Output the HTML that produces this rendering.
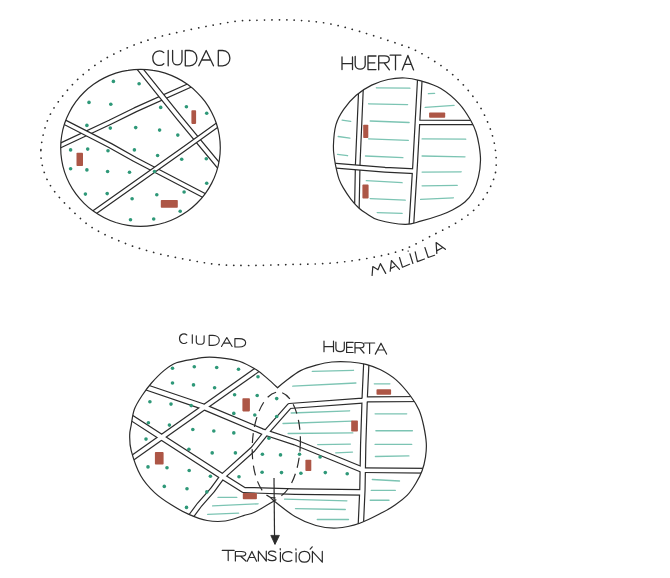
<!DOCTYPE html>
<html><head><meta charset="utf-8"><style>
html,body{margin:0;padding:0;background:#fff;}
body{width:670px;height:578px;overflow:hidden;font-family:"Liberation Sans",sans-serif;}
svg{display:block;}
</style></head><body>
<svg width="670" height="578" viewBox="0 0 670 578">
<path d="M40.9,149.8 C41.4,141.5 43.9,130.1 47,121.8 C50.1,113.5 54,107.5 59.6,100 C65.2,92.5 72.2,84.1 80.7,76.7 C89.2,69.3 98.2,62.2 110.6,55.8 C123,49.3 135.9,43.5 155,38 C174.1,32.5 207.9,25.9 225.4,22.9 C242.9,19.9 248.4,20.6 260,20.2 C271.6,19.8 283.8,19.7 295,20.2 C306.2,20.7 316.7,21.5 327.5,23.4 C338.3,25.3 348.2,28.1 359.8,31.5 C371.4,34.9 387.4,40.1 397.4,43.6 C407.4,47.1 410.8,47.6 420,52.7 C429.2,57.9 442.9,66 452.6,74.5 C462.3,83 471.3,93.2 478,103.5 C484.7,113.8 489.6,125.9 492.6,136.2 C495.6,146.5 496.4,157.1 496.2,165.2 C496,173.3 494.4,177.8 491.4,184.6 C488.4,191.4 483.4,199.9 478,206 C472.6,212.1 465.9,216.7 458.7,221.4 C451.4,226.1 443.8,229.5 434.5,234.2 C425.2,238.9 413.6,245.8 403,249.7 C392.4,253.6 382.7,255.6 370.6,257.8 C358.5,260.1 343.7,262.1 330.3,263.2 C316.9,264.3 303.6,264.1 290,264.5 C276.4,264.9 261.2,265.5 249,265.5 C236.8,265.5 227.1,265.4 216.8,264.4 C206.5,263.4 197.3,261.5 187,259.6 C176.7,257.7 165.5,255.6 155,252.8 C144.5,250 134.4,247.1 124,242.9 C113.5,238.7 101.2,233.3 92.3,227.7 C83.4,222 77,215.3 70.5,209 C64,202.7 57.8,196.2 53.4,190 C49,183.8 46.1,178.3 44,171.6 C41.9,164.9 40.4,158.1 40.9,149.8Z" fill="none" stroke="#2b2b2b" stroke-width="1.7" stroke-dasharray="0.1 7.3" stroke-linecap="round"/>
<defs><clipPath id="k1"><path d="M220.3,147.8 C220.3,151.9 220,156 219.3,160.1 C218.7,164.1 217.7,168.2 216.4,172.1 C215.1,176 213.5,179.8 211.6,183.4 C209.7,187.1 207.5,190.6 205.1,193.9 C202.6,197.3 199.9,200.4 196.9,203.3 C194,206.2 190.8,208.9 187.4,211.3 C184,213.7 180.4,215.9 176.7,217.7 C173,219.6 169.1,221.2 165.2,222.5 C161.2,223.7 157.1,224.7 153,225.3 C148.9,226 144.7,226.3 140.5,226.3 C136.3,226.3 132.1,226 128,225.3 C123.9,224.7 119.8,223.7 115.8,222.5 C111.9,221.2 108,219.6 104.3,217.7 C100.6,215.9 97,213.7 93.6,211.3 C90.2,208.9 87,206.2 84.1,203.3 C81.1,200.4 78.4,197.3 75.9,193.9 C73.5,190.6 71.3,187.1 69.4,183.4 C67.5,179.8 65.9,176 64.6,172.1 C63.3,168.2 62.3,164.1 61.7,160.1 C61,156 60.7,151.9 60.7,147.8 C60.7,143.7 61,139.6 61.7,135.5 C62.3,131.5 63.3,127.4 64.6,123.5 C65.9,119.6 67.5,115.8 69.4,112.2 C71.3,108.5 73.5,105 75.9,101.7 C78.4,98.3 81.1,95.2 84.1,92.3 C87,89.4 90.2,86.7 93.6,84.3 C97,81.9 100.6,79.7 104.3,77.9 C108,76 111.9,74.4 115.8,73.1 C119.8,71.9 123.9,70.9 128,70.3 C132.1,69.6 136.3,69.3 140.5,69.3 C144.7,69.3 148.9,69.6 153,70.3 C157.1,70.9 161.2,71.9 165.2,73.1 C169.1,74.4 173,76 176.7,77.9 C180.4,79.7 184,81.9 187.4,84.3 C190.8,86.7 194,89.4 196.9,92.3 C199.9,95.2 202.6,98.3 205.1,101.7 C207.5,105 209.7,108.5 211.6,112.2 C213.5,115.8 215.1,119.6 216.4,123.5 C217.7,127.4 218.7,131.5 219.3,135.5 C220,139.6 220.3,143.7 220.3,147.8Z"/></clipPath><clipPath id="k2"><path d="M405,78 C410.3,78.2 414,79 420,80.7 C426,82.5 434.2,84.6 440.8,88.5 C447.4,92.4 454.5,98.7 459.5,104.1 C464.5,109.5 468.1,116 470.9,120.7 C473.6,125.4 474.6,127.8 476,132 C477.4,136.2 478.4,141.2 479.2,146 C479.9,150.8 480.6,155.3 480.5,160.5 C480.4,165.7 479.6,171.9 478.4,177.1 C477.2,182.3 475.4,187.5 473.2,191.7 C470.9,195.8 468.4,198.9 464.9,202 C461.4,205.1 456.4,207.8 452.4,210 C448.4,212.2 446.1,213.1 440.8,215 C435.5,216.9 426.6,219.6 420.6,221.2 C414.6,222.8 412,224.5 405,224.3 C398,224.1 384.9,221.8 378.5,220 C372.1,218.2 369.6,215.4 366.4,213.5 C363.2,211.6 361.7,210.8 359.1,208.3 C356.5,205.9 353.2,202.2 350.6,198.8 C348,195.4 345.2,191.1 343.3,187.9 C341.4,184.7 340.2,182.4 339.1,179.4 C338,176.4 337.3,173.1 336.5,169.7 C335.7,166.3 335,162.9 334.5,159 C334,155.1 333.2,151.7 333.4,146 C333.6,140.3 334.2,130.9 335.9,124.8 C337.6,118.7 340.3,114.2 343.7,109.3 C347.1,104.4 351.5,99.2 356.2,95.2 C360.9,91.2 366.4,87.7 371.7,85.1 C377,82.5 382.4,80.7 388,79.5 C393.6,78.3 399.7,77.8 405,78Z"/></clipPath><clipPath id="k3"><path d="M277.5,387.8 C278.9,386.6 282.1,383.6 286,380.7 C289.9,377.8 295.6,373.2 300.6,370.6 C305.6,368 311,366.5 316.2,365.1 C321.4,363.7 326,362.5 331.7,362 C337.4,361.5 344.7,361.6 350.4,362 C356.1,362.4 361,363 366,364.3 C371,365.6 375.6,367.2 380.6,369.8 C385.6,372.4 391.1,375.5 396.1,379.9 C401.1,384.3 406.7,391 410.5,396 C414.3,401 416.8,405 419,410 C421.2,415 422.5,420.4 423.7,426 C424.9,431.6 426,438.1 426.3,443.3 C426.6,448.5 426.2,452.5 425.5,457.1 C424.8,461.7 423.6,466.7 422,471 C420.4,475.3 418.4,479 416,483 C413.6,487 410.8,491.5 407.3,495.2 C403.8,498.9 399.1,502.1 395,505 C390.9,507.9 388.7,509.3 382.8,512.3 C376.9,515.3 367.4,520.6 359.8,523.2 C352.2,525.8 344.3,527.6 337,528 C329.7,528.4 322.9,527.4 315.9,525.5 C308.9,523.6 302,520.6 295,516.5 C288,512.4 277.5,503.6 274,501 C270.8,502.8 260.1,509.6 255,512 C249.9,514.4 248.4,514.1 243.5,515.6 C238.6,517.1 231.4,520.2 225.3,521 C219.2,521.8 213.2,521.6 207.1,520.5 C201,519.4 194.8,517 188.9,514.4 C183,511.8 177.4,508.7 171.7,505.1 C166,501.5 159.8,497.5 154.6,492.6 C149.4,487.7 144.5,482.5 140.6,475.5 C136.7,468.5 133,457.4 131.2,450.6 C129.4,443.9 129.7,439.2 129.7,435 C129.7,430.8 130.4,429.4 131.2,425.1 C132,420.9 132.5,414.4 134.3,409.5 C136.1,404.6 139.2,399.9 142.1,395.5 C145,391.1 147.9,387.1 151.5,383 C155.1,378.9 159.8,374 163.9,370.6 C168.1,367.2 171.2,364.8 176.4,362.8 C181.6,360.9 190.3,359.8 195.1,358.9 C199.9,358 200.8,357.5 205,357.3 C209.2,357.1 214.9,357.2 220.6,357.8 C226.3,358.4 233.3,359.2 239.3,361.2 C245.3,363.2 251.7,366.9 256.4,369.8 C261.1,372.7 263.8,375.4 267.3,378.4 C270.8,381.4 275.8,386.2 277.5,387.8Z"/></clipPath></defs>
<g clip-path="url(#k1)" fill="none" stroke-linejoin="round">
<path d="M55,148 L110,122.3 L135,109.9 L195,83" stroke="#2b2b2b" stroke-width="5.6"/>
<path d="M55,148 L110,122.3 L135,109.9 L195,83" stroke="#fff" stroke-width="3.2"/>
<path d="M58,118.8 L110,145.4 L135,159.5 L205,196" stroke="#2b2b2b" stroke-width="5.8"/>
<path d="M136,64 L179.3,118 L224,172" stroke="#2b2b2b" stroke-width="6.2"/>
<path d="M58,118.8 L110,145.4 L135,159.5 L205,196" stroke="#fff" stroke-width="3.4"/>
<path d="M136,64 L179.3,118 L224,172" stroke="#fff" stroke-width="3.8"/>
<path d="M85,219 L185,148.2 L225,119.5" stroke="#2b2b2b" stroke-width="5.5"/>
<path d="M85,219 L185,148.2 L225,119.5" stroke="#fff" stroke-width="3.1"/>
</g>
<g fill="#2e9878"><circle cx="113.4" cy="81.4" r="1.8"/><circle cx="139.1" cy="83.7" r="1.8"/><circle cx="89" cy="102.4" r="1.8"/><circle cx="110.8" cy="104.3" r="1.8"/><circle cx="86.9" cy="125.4" r="1.8"/><circle cx="110.3" cy="128.1" r="1.8"/><circle cx="135.7" cy="127.6" r="1.8"/><circle cx="70.6" cy="149.9" r="1.8"/><circle cx="87.7" cy="149.1" r="1.8"/><circle cx="108" cy="150.7" r="1.8"/><circle cx="134.4" cy="149.9" r="1.8"/><circle cx="160.7" cy="107.4" r="1.8"/><circle cx="186.4" cy="106.7" r="1.8"/><circle cx="206.7" cy="113.3" r="1.8"/><circle cx="159.6" cy="130.1" r="1.8"/><circle cx="177.8" cy="135.1" r="1.8"/><circle cx="157.6" cy="155.5" r="1.8"/><circle cx="70.6" cy="168.7" r="1.8"/><circle cx="86.9" cy="169.9" r="1.8"/><circle cx="107.6" cy="171.5" r="1.8"/><circle cx="129.5" cy="172.3" r="1.8"/><circle cx="85.4" cy="194.1" r="1.8"/><circle cx="107.2" cy="193.6" r="1.8"/><circle cx="132.1" cy="198.7" r="1.8"/><circle cx="130.5" cy="219.8" r="1.8"/><circle cx="181.7" cy="159.3" r="1.8"/><circle cx="206.3" cy="158.7" r="1.8"/><circle cx="154.5" cy="171.5" r="1.8"/><circle cx="206.7" cy="183.2" r="1.8"/><circle cx="184.1" cy="192" r="1.8"/><circle cx="156.8" cy="194.8" r="1.8"/><circle cx="180.2" cy="211.2" r="1.8"/><circle cx="153.7" cy="219" r="1.8"/></g>
<g fill="#ad5646"><rect x="191.4" y="110.2" width="4.7" height="13.7" rx="0.8"/><rect x="76.5" y="152.8" width="6.5" height="13.2" rx="0.8"/><rect x="160.8" y="199.9" width="17" height="7.9" rx="0.8"/></g>
<path d="M220.3,147.8 C220.3,151.9 220,156 219.3,160.1 C218.7,164.1 217.7,168.2 216.4,172.1 C215.1,176 213.5,179.8 211.6,183.4 C209.7,187.1 207.5,190.6 205.1,193.9 C202.6,197.3 199.9,200.4 196.9,203.3 C194,206.2 190.8,208.9 187.4,211.3 C184,213.7 180.4,215.9 176.7,217.7 C173,219.6 169.1,221.2 165.2,222.5 C161.2,223.7 157.1,224.7 153,225.3 C148.9,226 144.7,226.3 140.5,226.3 C136.3,226.3 132.1,226 128,225.3 C123.9,224.7 119.8,223.7 115.8,222.5 C111.9,221.2 108,219.6 104.3,217.7 C100.6,215.9 97,213.7 93.6,211.3 C90.2,208.9 87,206.2 84.1,203.3 C81.1,200.4 78.4,197.3 75.9,193.9 C73.5,190.6 71.3,187.1 69.4,183.4 C67.5,179.8 65.9,176 64.6,172.1 C63.3,168.2 62.3,164.1 61.7,160.1 C61,156 60.7,151.9 60.7,147.8 C60.7,143.7 61,139.6 61.7,135.5 C62.3,131.5 63.3,127.4 64.6,123.5 C65.9,119.6 67.5,115.8 69.4,112.2 C71.3,108.5 73.5,105 75.9,101.7 C78.4,98.3 81.1,95.2 84.1,92.3 C87,89.4 90.2,86.7 93.6,84.3 C97,81.9 100.6,79.7 104.3,77.9 C108,76 111.9,74.4 115.8,73.1 C119.8,71.9 123.9,70.9 128,70.3 C132.1,69.6 136.3,69.3 140.5,69.3 C144.7,69.3 148.9,69.6 153,70.3 C157.1,70.9 161.2,71.9 165.2,73.1 C169.1,74.4 173,76 176.7,77.9 C180.4,79.7 184,81.9 187.4,84.3 C190.8,86.7 194,89.4 196.9,92.3 C199.9,95.2 202.6,98.3 205.1,101.7 C207.5,105 209.7,108.5 211.6,112.2 C213.5,115.8 215.1,119.6 216.4,123.5 C217.7,127.4 218.7,131.5 219.3,135.5 C220,139.6 220.3,143.7 220.3,147.8Z" fill="none" stroke="#2b2b2b" stroke-width="1.2"/>
<g clip-path="url(#k2)" fill="none" stroke-linejoin="round">
<path d="M361,88 L357.7,165 L356.8,212" stroke="#2b2b2b" stroke-width="5.8"/>
<path d="M361,88 L357.7,165 L356.8,212" stroke="#fff" stroke-width="3.4"/>
<path d="M330,165.3 L385,169.7 L415.1,171.3" stroke="#2b2b2b" stroke-width="6"/>
<path d="M417,122.4 L485,122.5" stroke="#2b2b2b" stroke-width="5.5"/>
<path d="M420,76 L415.1,165 L411.2,228" stroke="#2b2b2b" stroke-width="5.8"/>
<path d="M330,165.3 L385,169.7 L415.1,171.3" stroke="#fff" stroke-width="3.6"/>
<path d="M417,122.4 L485,122.5" stroke="#fff" stroke-width="3.1"/>
<path d="M420,76 L415.1,165 L411.2,228" stroke="#fff" stroke-width="3.4"/>
</g>
<path d="M376.4,87.8 L409.9,88.2 M368.6,103.8 L407.6,104.6 M370.2,121 L409.1,122.5 M368.6,138.9 L408.3,140.4 M365.5,156 L402.9,157.6 M342.1,120.2 L350.7,121.4 M338.2,136.5 L349.9,138.1 M337.5,154.4 L347.6,155.7 M428.4,93.7 L434.6,93.4 M425.2,107.4 L454.1,105.4 M422.1,138.9 L465.7,139.2 M422.1,156 L465,156.8 M366.3,180.7 L402.1,182.7 M370.2,198.6 L405.2,200.2 M377.2,212.6 L402.1,213.4 M422.1,172.1 L461.1,171.8 M422.1,185.8 L457.2,185.4 M420.6,199.4 L453.3,197.8" stroke="#7cc4b3" stroke-width="1.35" fill="none" stroke-linecap="round"/>
<g fill="#ad5646"><rect x="363.2" y="124.8" width="5.1" height="13.3" rx="0.8"/><rect x="429.1" y="112.4" width="16.1" height="5.4" rx="0.8"/><rect x="362.4" y="184.6" width="6.2" height="14" rx="0.8"/></g>
<path d="M405,78 C410.3,78.2 414,79 420,80.7 C426,82.5 434.2,84.6 440.8,88.5 C447.4,92.4 454.5,98.7 459.5,104.1 C464.5,109.5 468.1,116 470.9,120.7 C473.6,125.4 474.6,127.8 476,132 C477.4,136.2 478.4,141.2 479.2,146 C479.9,150.8 480.6,155.3 480.5,160.5 C480.4,165.7 479.6,171.9 478.4,177.1 C477.2,182.3 475.4,187.5 473.2,191.7 C470.9,195.8 468.4,198.9 464.9,202 C461.4,205.1 456.4,207.8 452.4,210 C448.4,212.2 446.1,213.1 440.8,215 C435.5,216.9 426.6,219.6 420.6,221.2 C414.6,222.8 412,224.5 405,224.3 C398,224.1 384.9,221.8 378.5,220 C372.1,218.2 369.6,215.4 366.4,213.5 C363.2,211.6 361.7,210.8 359.1,208.3 C356.5,205.9 353.2,202.2 350.6,198.8 C348,195.4 345.2,191.1 343.3,187.9 C341.4,184.7 340.2,182.4 339.1,179.4 C338,176.4 337.3,173.1 336.5,169.7 C335.7,166.3 335,162.9 334.5,159 C334,155.1 333.2,151.7 333.4,146 C333.6,140.3 334.2,130.9 335.9,124.8 C337.6,118.7 340.3,114.2 343.7,109.3 C347.1,104.4 351.5,99.2 356.2,95.2 C360.9,91.2 366.4,87.7 371.7,85.1 C377,82.5 382.4,80.7 388,79.5 C393.6,78.3 399.7,77.8 405,78Z" fill="none" stroke="#2b2b2b" stroke-width="1.2"/>
<path d="M 163.8,52.6 C 160.8,49.6 152.8,50.2 152.8,58.1 C 152.8,66.1 160.8,66.7 163.8,63.7 M168.2,50.5 L168.2,65.8 M 172.6,50.5 L 172.6,60 C 172.6,66.6 182,66.6 182,60 L 182,50.5 M 185.3,50.5 L 185.3,65.8 L 189.6,65.8 C 199.3,65.8 199.3,50.5 189.6,50.5 Z M 198.8,65.8 L 206.2,50.5 L 213.5,65.8 M 202.1,60 L 210.2,60 M 218.3,50.5 L 218.3,65.8 L 222.6,65.8 C 232.3,65.8 232.3,50.5 222.6,50.5 Z" fill="none" stroke="#2b2b2b" stroke-width="1.3" stroke-linecap="round" stroke-linejoin="round"/>
<path d="M 342,57 L 342,69.6 M 352.5,57 L 352.5,69.6 M 342,63.6 L 352.5,63.6 M 355.2,56.5 L 355.2,64.7 C 355.2,70.5 365.2,70.5 365.2,64.7 L 365.2,56.5 M 376,56 L 368,56 L 368,69.6 L 376,69.6 M 368,62.8 L 374.8,62.8 M 378.7,69.8 L 378.7,55.8 L 384.7,55.8 C 390.8,55.8 390.8,62.8 384.7,62.8 L 378.7,62.8 M 384.1,62.8 L 389.4,69.8 M 390.1,55.2 L 400.9,55.2 M 395.5,55.2 L 395.5,69.8 M 402.2,69.9 L 407.9,55.4 L 413.6,69.9 M 404.7,64.4 L 411.1,64.4" fill="none" stroke="#2b2b2b" stroke-width="1.3" stroke-linecap="round" stroke-linejoin="round"/>
<path d="M372.1,275.5 L372.8,266.5 L378,269.8 L380.4,263.6 L385.7,273.4 M390.2,271.2 L391.4,260.5 L399.5,269.3 M390.4,268.6 L394.7,266.5 M399.5,257.5 L402.5,267.2 L409.6,264.3 M409.9,253.8 L412.9,263.5 M408.1,251 L408.2,251.2 M415.2,251.9 L417.4,261.6 L424.5,259 M424.9,247.5 L428.2,257.5 L434.6,255.3 M436.8,253.4 L436.1,242.6 L445.4,249.3 M437,250.6 L442,248" fill="none" stroke="#2b2b2b" stroke-width="1.2" stroke-linecap="round" stroke-linejoin="round"/>
<g clip-path="url(#k3)" fill="none" stroke-linejoin="round">
<path d="M138,384.5 L203,406.6 L262,431.4 L295,442.3 L363,470" stroke="#2b2b2b" stroke-width="6.6"/>
<path d="M128,461 L264,365" stroke="#2b2b2b" stroke-width="6.2"/>
<path d="M126,414.2 L166.6,440.5 L221.5,476 L243.8,490 L295,491.6 L362,492.4" stroke="#2b2b2b" stroke-width="6.6"/>
<path d="M186,523 L199.3,505 L212.5,490 L222,477 L252.8,449.4 L268.7,429.5 L289.5,406 L362.5,400.6 L367,399.3 L430,399" stroke="#2b2b2b" stroke-width="6.2"/>
<path d="M366.7,355 L364.8,396 L363.2,445 L362.4,490 L360.6,530" stroke="#2b2b2b" stroke-width="6.5"/>
<path d="M363.5,470.2 L430,470.8" stroke="#2b2b2b" stroke-width="5.8"/>
<path d="M138,384.5 L203,406.6 L262,431.4 L295,442.3 L363,470" stroke="#fff" stroke-width="4.2"/>
<path d="M128,461 L264,365" stroke="#fff" stroke-width="3.8"/>
<path d="M126,414.2 L166.6,440.5 L221.5,476 L243.8,490 L295,491.6 L362,492.4" stroke="#fff" stroke-width="4.2"/>
<path d="M186,523 L199.3,505 L212.5,490 L222,477 L252.8,449.4 L268.7,429.5 L289.5,406 L362.5,400.6 L367,399.3 L430,399" stroke="#fff" stroke-width="3.8"/>
<path d="M366.7,355 L364.8,396 L363.2,445 L362.4,490 L360.6,530" stroke="#fff" stroke-width="4.1"/>
<path d="M363.5,470.2 L430,470.8" stroke="#fff" stroke-width="3.4"/>
</g>
<g fill="#2e9878"><circle cx="172.5" cy="368.2" r="1.8"/><circle cx="194.3" cy="366.7" r="1.8"/><circle cx="172.5" cy="383" r="1.8"/><circle cx="193.5" cy="384.9" r="1.8"/><circle cx="214.6" cy="387.7" r="1.8"/><circle cx="149.9" cy="401.7" r="1.8"/><circle cx="171" cy="404.1" r="1.8"/><circle cx="191.2" cy="405.6" r="1.8"/><circle cx="148.4" cy="422.8" r="1.8"/><circle cx="169.4" cy="425.1" r="1.8"/><circle cx="192.8" cy="429.5" r="1.8"/><circle cx="213.8" cy="431" r="1.8"/><circle cx="146" cy="439.1" r="1.8"/><circle cx="216.7" cy="367.5" r="1.8"/><circle cx="238.5" cy="369.3" r="1.8"/><circle cx="258" cy="376.8" r="1.8"/><circle cx="234.6" cy="394.7" r="1.8"/><circle cx="257.2" cy="395.5" r="1.8"/><circle cx="276.7" cy="398.6" r="1.8"/><circle cx="233.8" cy="413.4" r="1.8"/><circle cx="254.8" cy="415" r="1.8"/><circle cx="276.7" cy="416.5" r="1.8"/><circle cx="233.8" cy="432.9" r="1.8"/><circle cx="268.9" cy="438.3" r="1.8"/><circle cx="188.9" cy="449.3" r="1.8"/><circle cx="212.2" cy="452.9" r="1.8"/><circle cx="148" cy="466.9" r="1.8"/><circle cx="167" cy="467.7" r="1.8"/><circle cx="189.2" cy="470.5" r="1.8"/><circle cx="210.4" cy="476.3" r="1.8"/><circle cx="164.3" cy="486.4" r="1.8"/><circle cx="187" cy="488.7" r="1.8"/><circle cx="206.8" cy="491.9" r="1.8"/><circle cx="186.5" cy="507.4" r="1.8"/><circle cx="235.4" cy="452.9" r="1.8"/><circle cx="239" cy="476.7" r="1.8"/><circle cx="262.4" cy="454.2" r="1.8"/><circle cx="280.5" cy="454.9" r="1.8"/><circle cx="299.5" cy="454.2" r="1.8"/><circle cx="262.1" cy="472.2" r="1.8"/><circle cx="281.5" cy="472.6" r="1.8"/><circle cx="300.9" cy="473.2" r="1.8"/><circle cx="320.1" cy="457" r="1.8"/><circle cx="325.3" cy="472.6" r="1.8"/><circle cx="347.2" cy="473.7" r="1.8"/></g>
<path d="M218,497.4 L236.8,497.4 M212.6,505.9 L258,503.8 M207.7,514.4 L238.6,513.2 M284.6,499.2 L346.9,500.8 M295.5,508.6 L345.3,509.5 M317.3,519.5 L348.5,519.5 M312.3,371.4 L353.5,370.3 M292.8,386.2 L355.9,383 M374.3,383.8 L389.9,383.8 M291.2,413 L349.6,410.8 M283,423.5 L352,421.2 M288.1,433.5 L352.8,432.9 M317.7,444.6 L350.4,444.1 M335.7,452.8 L352.5,452.1 M375.1,413.8 L406.7,413.8 M375.9,430.7 L412.4,430.7 M375.1,444.4 L411.7,444.4 M375.4,456.5 L408.9,455.9 M372.3,479.5 L399.5,481 M371.3,490.4 L395.3,490.4 M370.2,500.2 L389,500.2" stroke="#7cc4b3" stroke-width="1.35" fill="none" stroke-linecap="round"/>
<g fill="#ad5646"><rect x="242.4" y="398.3" width="7.5" height="13.1" rx="0.8"/><rect x="154.9" y="452.1" width="8.7" height="12.5" rx="0.8"/><rect x="242.8" y="493" width="14.1" height="6.2" rx="0.8"/><rect x="376.5" y="389.2" width="14.6" height="5.6" rx="0.8"/><rect x="351.2" y="420.4" width="6.7" height="11.2" rx="0.8"/><rect x="305.4" y="459.7" width="5.9" height="11.3" rx="0.8"/></g>
<path d="M277.5,387.8 C278.9,386.6 282.1,383.6 286,380.7 C289.9,377.8 295.6,373.2 300.6,370.6 C305.6,368 311,366.5 316.2,365.1 C321.4,363.7 326,362.5 331.7,362 C337.4,361.5 344.7,361.6 350.4,362 C356.1,362.4 361,363 366,364.3 C371,365.6 375.6,367.2 380.6,369.8 C385.6,372.4 391.1,375.5 396.1,379.9 C401.1,384.3 406.7,391 410.5,396 C414.3,401 416.8,405 419,410 C421.2,415 422.5,420.4 423.7,426 C424.9,431.6 426,438.1 426.3,443.3 C426.6,448.5 426.2,452.5 425.5,457.1 C424.8,461.7 423.6,466.7 422,471 C420.4,475.3 418.4,479 416,483 C413.6,487 410.8,491.5 407.3,495.2 C403.8,498.9 399.1,502.1 395,505 C390.9,507.9 388.7,509.3 382.8,512.3 C376.9,515.3 367.4,520.6 359.8,523.2 C352.2,525.8 344.3,527.6 337,528 C329.7,528.4 322.9,527.4 315.9,525.5 C308.9,523.6 302,520.6 295,516.5 C288,512.4 277.5,503.6 274,501 C270.8,502.8 260.1,509.6 255,512 C249.9,514.4 248.4,514.1 243.5,515.6 C238.6,517.1 231.4,520.2 225.3,521 C219.2,521.8 213.2,521.6 207.1,520.5 C201,519.4 194.8,517 188.9,514.4 C183,511.8 177.4,508.7 171.7,505.1 C166,501.5 159.8,497.5 154.6,492.6 C149.4,487.7 144.5,482.5 140.6,475.5 C136.7,468.5 133,457.4 131.2,450.6 C129.4,443.9 129.7,439.2 129.7,435 C129.7,430.8 130.4,429.4 131.2,425.1 C132,420.9 132.5,414.4 134.3,409.5 C136.1,404.6 139.2,399.9 142.1,395.5 C145,391.1 147.9,387.1 151.5,383 C155.1,378.9 159.8,374 163.9,370.6 C168.1,367.2 171.2,364.8 176.4,362.8 C181.6,360.9 190.3,359.8 195.1,358.9 C199.9,358 200.8,357.5 205,357.3 C209.2,357.1 214.9,357.2 220.6,357.8 C226.3,358.4 233.3,359.2 239.3,361.2 C245.3,363.2 251.7,366.9 256.4,369.8 C261.1,372.7 263.8,375.4 267.3,378.4 C270.8,381.4 275.8,386.2 277.5,387.8Z" fill="none" stroke="#2b2b2b" stroke-width="1.2" stroke-linejoin="round"/>
<path d="M274,501 L270.5,497.6 M274,501 L276.3,499.4" stroke="#2b2b2b" stroke-width="1.2" fill="none"/>
<ellipse cx="276.3" cy="445" rx="24" ry="53" transform="rotate(2.7 276.3 445)" fill="none" stroke="#2b2b2b" stroke-width="1.2" stroke-dasharray="10 6.3" stroke-dashoffset="4.5"/>
<path d="M274,478 L274.6,544" stroke="#2b2b2b" stroke-width="1.2" fill="none"/>
<path d="M270.8,535.4 L279.4,535.4 L275,544.5 Z" fill="#2b2b2b" stroke="#2b2b2b" stroke-width="0.8"/>
<path d="M 186.8,335 C 184.8,333 179.5,333.4 179.5,338.6 C 179.5,343.9 184.8,344.3 186.8,342.3 M192.3,334.7 L192.3,343.2 M 196.3,335.8 L 196.3,341.4 C 196.3,345.2 204.1,345.2 204.1,341.4 L 204.1,335.8 M 209.2,335.3 L 209.2,345.4 L 212.9,345.4 C 221.4,345.4 221.4,335.3 212.9,335.3 Z M 221.5,346.5 L 226.8,337.5 L 232.1,346.5 M 223.9,343.1 L 229.7,343.1 M 234.9,338.6 L 234.9,347 L 238.9,347 C 247.9,347 247.9,338.6 238.9,338.6 Z" fill="none" stroke="#2b2b2b" stroke-width="1.15" stroke-linecap="round" stroke-linejoin="round"/>
<path d="M 324,341 L 324,351.7 M 333.5,341 L 333.5,351.7 M 324,346.6 L 333.5,346.6 M 335.9,342 L 335.9,348.3 C 335.9,352.7 344.3,352.7 344.3,348.3 L 344.3,342 M 353.2,342.3 L 346.6,342.3 L 346.6,352.5 L 353.2,352.5 M 346.6,347.4 L 352.2,347.4 M 355,353 L 355,342.5 L 360,342.5 C 365.2,342.5 365.2,347.8 360,347.8 L 355,347.8 M 359.6,347.8 L 364,353 M 364.6,343 L 374.7,343 M 369.6,343 L 369.6,353.5 M 375.3,354.1 L 381,343.2 L 386.6,354.1 M 377.8,350 L 384.1,350" fill="none" stroke="#2b2b2b" stroke-width="1.2" stroke-linecap="round" stroke-linejoin="round"/>
<path d="M 222.2,550.3 L 234.2,550.3 M 228.2,550.3 L 228.2,560.6 M 235.4,561 L 235.4,551.5 L 241.3,551.5 C 247.3,551.5 247.3,556.2 241.3,556.2 L 235.4,556.2 M 240.7,556.2 L 245.9,561 M 247.2,561.3 L 251.9,551.4 L 256.6,561.3 M 249.3,557.5 L 254.5,557.5 M 258.4,561 L 258.4,551.2 L 266.3,561 L 266.3,551.2 M 275.7,552.2 C 273.5,550.5 268.3,550.8 268.5,553.6 C 269,555.9 275.9,555.4 276,558.2 C 276.2,561.3 269.7,561.3 268.1,559.4 M280.4,552.3 L280.4,561.7 M 291.9,552.8 C 289.4,550.8 282.5,551.2 282.5,556.5 C 282.5,561.9 289.4,562.3 291.9,560.3 M296.1,552.5 L296.1,561.9 M 304.4,551.4 C 299.6,551.4 299,554.6 299,556.8 C 299,559.5 300.2,562.2 304.4,562.2 C 308.6,562.2 309.8,559.5 309.8,556.8 C 309.8,554.1 308.6,551.4 304.4,551.4 Z M 312.4,562.2 L 312.4,551.4 L 322.3,562.2 L 322.3,551.4" fill="none" stroke="#2b2b2b" stroke-width="1.2" stroke-linecap="round" stroke-linejoin="round"/>
<path d="M280.2,548.6 L280.3,549.8 M295.9,548.8 L296,550 M310.2,549.2 L312.2,546.8" stroke="#2b2b2b" stroke-width="1.2" stroke-linecap="round"/>
</svg>
</body></html>
